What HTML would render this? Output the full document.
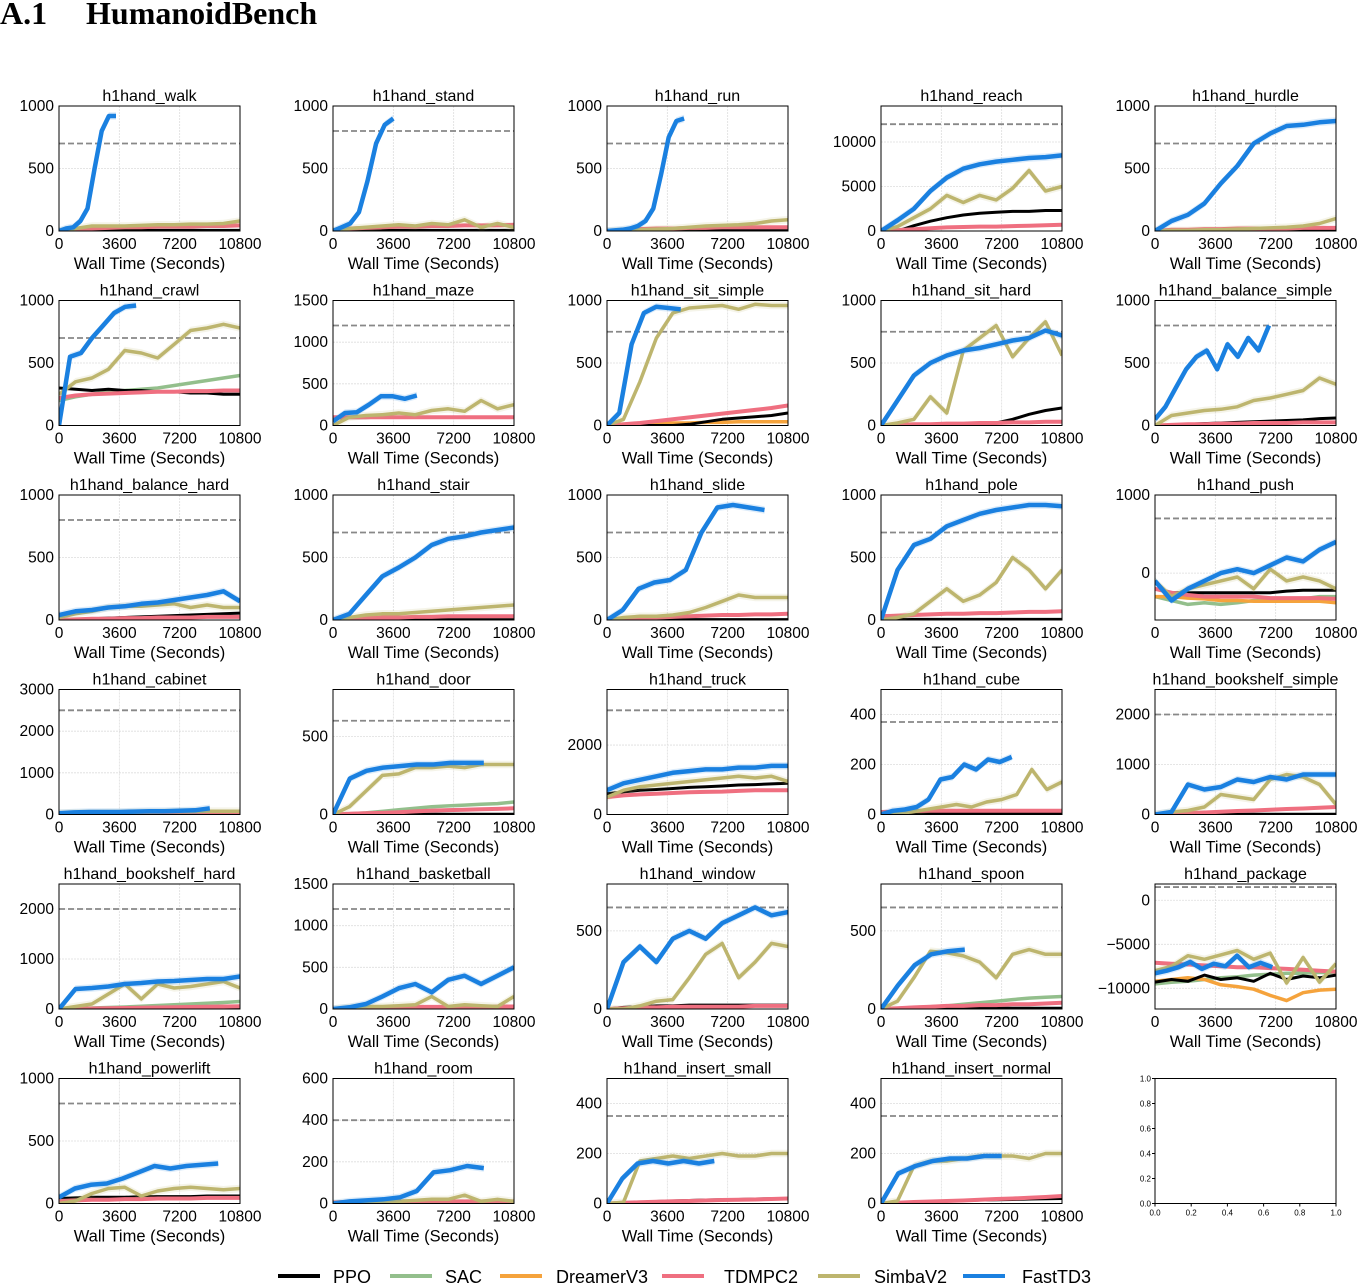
<!DOCTYPE html>
<html><head><meta charset="utf-8"><style>
body{margin:0;background:#fff;}
svg{display:block;font-family:"Liberation Sans",sans-serif;}
</style></head><body>
<svg id="c" width="1359" height="1284" viewBox="0 0 1359 1284">
<text x="0" y="24" font-family="Liberation Serif" font-weight="bold" font-size="32">A.1</text>
<text x="86" y="24" font-family="Liberation Serif" font-weight="bold" font-size="32">HumanoidBench</text>
</svg>
<script>
const seriesKeys = ['s','d','p','t','m','f'];
const seriesNames = {p:'PPO',s:'SAC',d:'DreamerV3',t:'TDMPC2',m:'SimbaV2',f:'FastTD3'};
const seriesColors = {p:'#000000',s:'#93bf8c',d:'#f5a33c',t:'#ef6f80',m:'#bdb56e',f:'#1a80e0'};
const seriesWidths = {p:3,s:3.5,d:3.5,t:4,m:3.5,f:4.5};
const xTicks = [0,3600,7200,10800];
const panelTitles = ['h1hand_walk','h1hand_stand','h1hand_run','h1hand_reach','h1hand_hurdle',
'h1hand_crawl','h1hand_maze','h1hand_sit_simple','h1hand_sit_hard','h1hand_balance_simple',
'h1hand_balance_hard','h1hand_stair','h1hand_slide','h1hand_pole','h1hand_push',
'h1hand_cabinet','h1hand_door','h1hand_truck','h1hand_cube','h1hand_bookshelf_simple',
'h1hand_bookshelf_hard','h1hand_basketball','h1hand_window','h1hand_spoon','h1hand_package',
'h1hand_powerlift','h1hand_room','h1hand_insert_small','h1hand_insert_normal'];
const panelYLim = [[0,1000],[0,1000],[0,1000],[0,14045],[0,1000],
[0,1000],[0,1500],[0,1000],[0,1000],[0,1000],
[0,1000],[0,1000],[0,1000],[0,1000],[-600,1000],
[0,3000],[0,800],[0,3600],[0,500],[0,2500],
[0,2500],[0,1500],[0,800],[0,800],[-12350,1850],
[0,1000],[0,600],[0,500],[0,500]];
const panelYTicks = [[0,500,1000],[0,500,1000],[0,500,1000],[0,5000,10000],[0,500,1000],
[0,500,1000],[0,500,1000,1500],[0,500,1000],[0,500,1000],[0,500,1000],
[0,500,1000],[0,500,1000],[0,500,1000],[0,500,1000],[0,1000],
[0,1000,2000,3000],[0,500],[0,2000],[0,200,400],[0,1000,2000],
[0,1000,2000],[0,500,1000,1500],[0,500],[0,500],[-10000,-5000,0],
[0,500,1000],[0,200,400,600],[0,200,400],[0,200,400]];
const panelThreshold = [700,800,700,12000,700, 700,1200,750,750,800, 800,700,700,700,700,
2500,600,3000,370,2000, 2000,1200,650,650,1500, 800,400,350,350];
const fastEnd = [3400,3600,4600,10800,10800, 4600,5000,4400,10800,6800, 10800,10800,9400,10800,10800,
9000,9000,10800,7800,10800, 10800,10800,10800,5000,7000, 9500,9000,6400,7200];
const panelSeries = [
 {p:[0,5,5,5,5,5,5,5,5,5,5,5],t:[0,15,20,25,30,30,35,35,35,40,40,45],m:[0,20,40,40,40,45,50,50,55,55,60,80],f:[0,20,30,80,180,500,800,920,920]},
 {p:[0,5,5,5,5,5,5,5,5,5,5,5],t:[0,20,25,30,35,35,40,40,45,45,45,50],m:[0,20,30,40,50,40,60,50,90,30,60,30],f:[0,30,60,150,400,700,850,900]},
 {p:[0,3,3,3,3,3,3,3,3,3,3,3],t:[0,10,15,20,20,25,25,30,30,30,30,30],m:[0,5,10,15,20,30,40,45,50,60,80,90],f:[0,5,10,20,40,80,180,450,750,880,900]},
 {p:[0,0,600,1100,1500,1800,2000,2100,2200,2200,2300,2300],t:[0,100,200,300,400,450,500,500,550,600,650,700],m:[0,500,1500,2500,4000,3200,4000,3500,4800,6800,4500,5000],f:[0,1200,2500,4500,6000,7000,7500,7800,8000,8200,8300,8500]},
 {p:[0,3,3,3,3,3,3,3,3,3,3,3],t:[0,10,10,15,15,20,20,20,20,25,25,25],m:[0,5,5,10,10,15,20,25,30,40,60,100],f:[0,80,130,220,380,520,700,780,840,850,870,880]},
 {p:[300,290,280,290,280,280,270,270,260,260,250,250],s:[200,230,250,270,280,290,300,320,340,360,380,400],t:[220,240,250,255,260,265,270,270,275,275,280,280],m:[250,350,380,450,600,580,540,650,760,780,810,780],f:[0,550,580,700,800,900,950,960]},
 {p:[90,95,95,100,100,100,100,100,100,100,100,100],t:[100,100,100,100,100,100,100,100,100,100,100,100],m:[0,100,120,130,150,130,180,200,170,300,200,250],f:[50,150,160,250,350,350,320,360]},
 {p:[0,0,0,0,0,10,30,50,60,70,80,100],d:[0,5,10,15,20,20,25,25,30,30,30,30],t:[0,10,20,35,50,65,80,95,110,125,140,160],m:[0,50,350,700,900,940,950,960,930,970,960,960],f:[0,100,650,900,950,940,930]},
 {p:[0,0,0,0,0,0,10,20,50,90,120,140],t:[0,5,10,10,15,15,20,20,25,25,30,30],m:[0,20,50,230,100,600,700,800,550,700,830,560],f:[0,200,400,500,560,600,620,650,680,700,760,720]},
 {p:[0,5,10,15,20,25,30,35,40,45,55,60],t:[0,5,10,10,15,15,20,20,20,25,25,25],m:[0,80,100,120,130,150,200,220,250,280,380,330],f:[50,150,300,450,550,600,450,650,550,700,600,800]},
 {p:[0,5,10,15,20,25,30,35,40,45,50,55],t:[0,5,10,10,15,15,20,20,20,25,25,25],m:[20,50,70,100,110,110,120,130,100,120,100,100],f:[40,70,80,100,110,130,140,160,180,200,230,150]},
 {p:[0,3,3,3,3,3,3,3,3,3,3,3],t:[0,10,15,20,20,25,25,30,30,30,30,30],m:[0,20,40,50,50,60,70,80,90,100,110,120],f:[0,50,200,350,420,500,600,650,670,700,720,740]},
 {p:[0,3,3,3,3,3,3,3,3,3,3,3],t:[0,10,15,20,25,30,35,40,40,45,45,50],m:[0,20,30,30,40,60,100,150,200,180,180,180],f:[0,80,250,300,320,400,700,900,920,900,880]},
 {p:[0,5,5,5,5,5,5,5,5,5,5,5],t:[30,35,40,45,50,50,55,55,60,65,65,70],m:[0,20,50,150,250,150,200,300,500,400,250,400],f:[0,400,600,650,750,800,850,880,900,920,920,910]},
 {p:[-200,-250,-250,-250,-250,-250,-250,-250,-230,-220,-220,-220],s:[-300,-350,-400,-380,-400,-380,-350,-350,-330,-330,-300,-300],d:[-300,-300,-320,-330,-350,-350,-360,-360,-360,-360,-360,-380],t:[-200,-250,-280,-300,-300,-300,-300,-320,-320,-320,-320,-330],m:[-100,-300,-200,-150,-100,-50,-200,50,-100,-50,-100,-200],f:[-100,-350,-200,-100,0,50,0,100,200,150,300,400]},
 {p:[30,30,30,30,30,30,30,30,30,30,30,30],s:[30,35,40,45,50,55,60,65,70,75,80,80],t:[30,35,40,45,50,50,55,55,60,60,60,60],m:[30,40,40,50,50,60,60,70,70,80,80,80],f:[30,50,60,60,60,70,80,80,90,100,150]},
 {p:[0,2,2,2,2,2,2,2,2,2,2,2],s:[0,5,10,20,30,40,50,55,60,65,70,80],t:[0,5,8,10,15,20,25,28,30,33,36,40],m:[0,50,150,250,260,300,300,310,300,320,320,320],f:[0,230,280,300,310,320,320,330,330,330]},
 {p:[600,650,700,720,750,780,800,820,850,860,880,900],t:[500,550,580,600,620,640,650,660,680,700,700,700],m:[500,700,800,850,900,950,1000,1050,1100,1050,1100,950],f:[700,900,1000,1100,1200,1250,1300,1300,1350,1350,1400,1400]},
 {p:[0,5,5,5,5,5,5,5,5,5,5,5],t:[10,12,14,15,15,15,15,15,15,15,15,15],m:[0,5,10,20,30,40,30,50,60,80,180,100,130],f:[0,15,20,30,60,140,150,200,180,220,210,230]},
 {p:[0,5,5,5,5,5,5,5,5,5,5,5],t:[0,15,30,40,55,70,80,95,110,120,135,150],m:[0,50,80,150,400,350,300,700,800,750,600,200],f:[0,50,600,500,550,700,650,750,700,800,800,800]},
 {p:[0,5,5,5,5,5,5,5,5,5,5,5],s:[0,10,20,30,40,55,70,85,100,115,130,150],t:[0,5,10,15,20,25,30,35,40,45,50,55],m:[0,50,100,300,500,200,500,420,450,500,550,420],f:[0,400,420,450,500,520,550,560,580,600,600,650]},
 {p:[0,5,5,5,5,5,5,5,5,5,5,5],t:[0,10,15,20,20,25,25,25,30,30,30,30],m:[0,20,30,30,40,50,150,30,50,40,30,150],f:[0,20,60,150,250,300,200,350,400,300,400,500]},
 {p:[0,10,15,20,20,25,25,25,25,25,25,25],t:[0,5,10,10,15,15,15,15,15,20,20,20],m:[0,0,20,50,60,200,350,420,200,300,420,400],f:[0,300,400,300,450,500,450,550,600,650,600,620]},
 {p:[0,5,5,5,5,5,5,5,5,5,5,5],s:[0,5,10,15,20,30,40,50,60,70,75,80],t:[0,5,10,15,20,20,25,25,30,30,35,40],m:[0,50,200,370,360,340,300,200,350,380,350,350],f:[0,150,280,350,370,380]},
 {p:[-9300,-9000,-9200,-8500,-9000,-8800,-9200,-8300,-9000,-8600,-8800,-8500],s:[-9500,-9300,-9200,-9000,-8800,-8700,-8500,-8400,-8300,-8300,-8200,-8200],d:[-9200,-9000,-8800,-9000,-9600,-9800,-10100,-10800,-11400,-10500,-10200,-10100],t:[-7100,-7200,-7300,-7400,-7500,-7600,-7600,-7700,-7800,-7900,-8000,-8100],m:[-8000,-7500,-6300,-6700,-6200,-5700,-6700,-6000,-9400,-6500,-9300,-7200],f:[-8300,-8000,-7600,-7000,-7800,-7200,-7500,-6300,-7600,-7100,-7600]},
 {p:[40,45,50,50,50,55,55,55,55,60,60,60],t:[20,25,30,30,35,35,40,40,40,45,45,45],m:[0,20,80,120,130,60,100,120,130,120,110,120],f:[50,120,150,160,200,250,300,280,300,310,320]},
 {p:[0,2,2,2,2,2,2,2,2,2,2,2],t:[5,8,10,10,10,10,10,10,10,10,10,10],m:[0,0,5,10,10,15,20,20,40,10,20,10],f:[0,10,15,20,30,60,150,160,180,170]},
 {p:[0,3,5,8,10,12,14,15,16,18,19,20],t:[0,3,5,7,9,10,12,14,15,16,18,20],m:[0,5,170,180,190,180,190,200,190,190,200,200],f:[0,100,160,170,160,170,160,170]},
 {p:[0,3,5,8,10,12,14,15,16,18,19,20],t:[0,3,6,8,10,12,15,18,20,23,26,30],m:[0,10,150,170,170,180,190,190,190,180,200,200],f:[0,120,150,170,180,180,190,190]}
];
const NS='http://www.w3.org/2000/svg';
const svg=document.getElementById('c');
function mk(tag,attrs,parent){const e=document.createElementNS(NS,tag);for(const k in attrs)e.setAttribute(k,attrs[k]);(parent||svg).appendChild(e);return e;}
const colX=[59,333,607,881,1155], rowY=[106,300.5,495,689.5,884,1078.5], W=181, H=125;
function fmt(v){return v<0?'\u2212'+(-v):String(v);}
panelTitles.forEach((title,i)=>{
  const x0=colX[i%5], y0=rowY[Math.floor(i/5)];
  const [lo,hi]=panelYLim[i];
  const sx=t=>x0+t/10800*W, sy=v=>y0+H-(v-lo)/(hi-lo)*H;
  const g=mk('g',{});
  
  
  const tt=mk('text',{x:x0+W/2,y:y0-5,'text-anchor':'middle','font-size':16},g);tt.textContent=title;
  
  
  xTicks.forEach(t=>{
    mk('line',{x1:sx(t),x2:sx(t),y1:y0,y2:y0+H,stroke:'#ddd','stroke-width':0.8,'stroke-dasharray':'2,1'},g);
    const l=mk('text',{x:sx(t),y:y0+H+18,'text-anchor':'middle','font-size':15.5},g);l.textContent=t;
    
    
  });
  panelYTicks[i].forEach(v=>{
    mk('line',{x1:x0,x2:x0+W,y1:sy(v),y2:sy(v),stroke:'#ddd','stroke-width':0.8,'stroke-dasharray':'2,1'},g);
    const l=mk('text',{x:x0-5,y:sy(v)+5,'text-anchor':'end','font-size':15.5},g);l.textContent=fmt(v);
    
    
  });
  const xl=mk('text',{x:x0+W/2,y:y0+H+38,'text-anchor':'middle','font-size':16.5},g);xl.textContent='Wall Time (Seconds)';
  
  
  mk('line',{x1:x0,x2:x0+W,y1:sy(panelThreshold[i]),y2:sy(panelThreshold[i]),stroke:'#888','stroke-width':1.8,'stroke-dasharray':'6,3'},g);
  const clip=mk('clipPath',{id:'cl'+i},g);mk('rect',{x:x0,y:y0,width:W,height:H},clip);
  const sg=mk('g',{'clip-path':'url(#cl'+i+')'},g);
  seriesKeys.forEach(k=>{
    const vals=panelSeries[i][k]; if(!vals)return;
    const end=k==='f'?fastEnd[i]:10800;
    const pts=vals.map((v,j)=>sx(j/(vals.length-1)*end).toFixed(1)+','+sy(v).toFixed(1)).join(' ');
    if(k==='f'||k==='m'){
      const band=vals.map((v,j)=>sx(j/(vals.length-1)*end).toFixed(1)+','+sy(v+(hi-lo)*0.03).toFixed(1)).concat(vals.slice().reverse().map((v,j)=>sx((vals.length-1-j)/(vals.length-1)*end).toFixed(1)+','+sy(v-(hi-lo)*0.03).toFixed(1))).join(' ');
      mk('polygon',{points:band,fill:seriesColors[k],opacity:0.15},sg);
    }
    const pl=mk('polyline',{points:pts,fill:'none',stroke:seriesColors[k],'stroke-width':seriesWidths[k],'stroke-linejoin':'round'},sg);
    
    
  });
  mk('rect',{x:x0,y:y0,width:W,height:H,fill:'none',stroke:'#000','stroke-width':1},g);
});
(function(){
  const x0=1155,y0=1078.5;
  const g=mk('g',{});
  
  
  mk('rect',{x:x0,y:y0,width:W,height:H,fill:'none',stroke:'#000','stroke-width':1},g);
  [0,0.2,0.4,0.6,0.8,1].forEach(v=>{
    const a=mk('text',{x:x0+v*W,y:y0+H+12,'text-anchor':'middle','font-size':8},g);a.textContent=v.toFixed(1);
    const b=mk('text',{x:x0-4,y:y0+H-v*H+3,'text-anchor':'end','font-size':8},g);b.textContent=v.toFixed(1);
    mk('line',{x1:x0+v*W,x2:x0+v*W,y1:y0+H,y2:y0+H+3,stroke:'#000'},g);
    mk('line',{x1:x0-3,x2:x0,y1:y0+H-v*H,y2:y0+H-v*H,stroke:'#000'},g);
  });
})();
const legendX={p:[278,333],s:[390,445],d:[500,556],t:[662,724],m:[818,874],f:[963,1022]};
['p','s','d','t','m','f'].forEach(k=>{
  const g=mk('g',{});
  
  
  mk('line',{x1:legendX[k][0],x2:legendX[k][0]+42,y1:1276,y2:1276,stroke:seriesColors[k],'stroke-width':4},g);
  const t=mk('text',{x:legendX[k][1],y:1283,'font-size':18},g);t.textContent=seriesNames[k];
});
</script>
</body></html>
